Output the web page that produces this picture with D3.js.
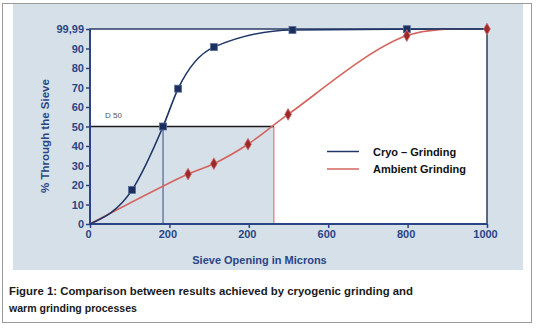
<!DOCTYPE html>
<html><head><meta charset="utf-8">
<script src="https://cdn.jsdelivr.net/npm/d3@7"></script>
<style>body{margin:0;background:#fff}svg{display:block}</style>
</head><body>
<svg id="c" width="540" height="331"></svg>
<script>
// ---- data ----
const cryoMicrons   = [0, 106, 184, 222, 312, 510, 798, 1000];
const cryoPercent   = [0, 17.5, 50, 69.4, 90.7, 99.5, 99.9, 99.99];
const cryoMarker    = [false, true, true, true, true, true, true, false];
const ambMicrons    = [0, 247, 312, 398, 499, 798, 1000];
const ambPercent    = [0, 25.6, 30.9, 40.9, 56.2, 96.6, 99.99];
const ambMarker     = [false, true, true, true, true, true, true];
const d50Level      = 50;
const cryoD50       = 184;
const ambD50        = 463;
const xTickValues   = [0, 200, 400, 600, 800, 1000];
const xTickLabels   = ["0", "200", "200", "600", "800", "1000"];
const yTickValues   = [0, 10, 20, 30, 40, 50, 60, 70, 80, 90, 99.99];
const yTickLabels   = ["0","10","20","30","40","50","60","70","80","90","99,99"];
const seriesNames   = ["Cryo \u2013 Grinding", "Ambient Grinding"];
const captionLines  = ["Figure 1: Comparison between results achieved by cryogenic grinding and", "warm grinding processes"];

// ---- drawing ----
const svg = d3.select("#c");
const panel = "#d6e0e9", navy = "#2a4585", cryoC = "#1e3566", ambC = "#d4645e";
const font = "Arial, 'Liberation Sans', sans-serif";
const x = d3.scaleLinear().domain([0, 1000]).range([90, 487]);
const y = d3.scaleLinear().domain([0, 99.99]).range([224, 29]);

svg.append("rect").attr("x", 2.5).attr("y", 3.5).attr("width", 529).attr("height", 319)
  .attr("fill", "#fff").attr("stroke", "#9a9a9a").attr("stroke-width", 1);
svg.append("rect").attr("x", 13).attr("y", 4).attr("width", 510).attr("height", 266).attr("fill", panel);

svg.append("clipPath").attr("id", "plotclip").append("rect")
  .attr("x", x(0)).attr("y", y(99.99)).attr("width", x(1000) - x(0)).attr("height", y(0) - y(99.99));

// plot area
svg.append("rect").attr("x", x(0)).attr("y", y(99.99)).attr("width", x(1000) - x(0)).attr("height", y(0) - y(99.99)).attr("fill", "#fff");
svg.append("rect").attr("x", x(0)).attr("y", y(d50Level)).attr("width", x(ambD50) - x(0)).attr("height", y(0) - y(d50Level)).attr("fill", panel);

// axes
const yAxis = svg.append("g").attr("transform", `translate(${x(0)},0)`)
  .call(d3.axisLeft(y).tickValues(yTickValues).tickSize(4).tickPadding(2).tickFormat((d, i) => yTickLabels[i]));
const xAxis = svg.append("g").attr("transform", `translate(0,${y(0)})`)
  .call(d3.axisBottom(x).tickValues(xTickValues).tickSize(4).tickPadding(2).tickFormat((d, i) => xTickLabels[i]));
[yAxis, xAxis].forEach(g => {
  g.select(".domain").remove();
  g.selectAll(".tick line").attr("stroke", navy).attr("stroke-width", 1.5);
  g.selectAll(".tick text").attr("fill", navy).attr("font-family", font)
    .attr("font-size", 11).attr("font-weight", "bold");
});
xAxis.selectAll(".tick text").attr("dx", -2);

// reference lines (D50)
svg.append("line").attr("x1", x(cryoD50)).attr("x2", x(cryoD50)).attr("y1", y(d50Level)).attr("y2", y(0))
  .attr("stroke", "#6f82aa").attr("stroke-width", 1.6);
svg.append("line").attr("x1", x(ambD50)).attr("x2", x(ambD50)).attr("y1", y(d50Level)).attr("y2", y(0))
  .attr("stroke", "#dc8a88").attr("stroke-width", 1.4);
svg.append("line").attr("x1", x(0)).attr("x2", x(ambD50)).attr("y1", y(d50Level)).attr("y2", y(d50Level))
  .attr("stroke", "#1a1a1a").attr("stroke-width", 1.5);
svg.append("text").attr("x", x(0) + 15).attr("y", y(d50Level) - 8).text("D 50")
  .attr("font-family", font).attr("font-size", 8).attr("fill", "#555");

// plot box
svg.append("rect").attr("x", x(0)).attr("y", y(99.99)).attr("width", x(1000) - x(0)).attr("height", y(0) - y(99.99))
  .attr("fill", "none").attr("stroke", "#2b3d63").attr("stroke-width", 1.5);
svg.append("line").attr("x1", x(0)).attr("x2", x(0)).attr("y1", y(99.99)).attr("y2", y(0)).attr("stroke", navy).attr("stroke-width", 2);
svg.append("line").attr("x1", x(0)).attr("x2", x(1000)).attr("y1", y(0)).attr("y2", y(0)).attr("stroke", navy).attr("stroke-width", 2);

// series
const cryoLine = d3.line().x(d => x(d[0])).y(d => y(d[1])).curve(d3.curveMonotoneX);
const ambLine = d3.line().x(d => x(d[0])).y(d => y(d[1])).curve(d3.curveCatmullRom.alpha(0.5));
const cryo = cryoMicrons.map((m, i) => [m, cryoPercent[i], cryoMarker[i]]);
const amb = ambMicrons.map((m, i) => [m, ambPercent[i], ambMarker[i]]);
svg.append("path").datum(amb).attr("d", ambLine).attr("clip-path", "url(#plotclip)")
  .attr("fill", "none").attr("stroke", ambC).attr("stroke-width", 1.6);
svg.append("path").datum(cryo).attr("d", cryoLine).attr("fill", "none").attr("stroke", cryoC).attr("stroke-width", 1.6);

svg.append("g").selectAll("rect").data(cryo.filter(d => d[2])).join("rect")
  .attr("x", d => x(d[0]) - 3.5).attr("y", d => y(d[1]) - 3.5).attr("width", 7).attr("height", 7)
  .attr("fill", "#1b2f5e").attr("stroke", "#5a6f9a").attr("stroke-width", 0.8);
const diamond = d3.symbol().type(d3.symbolDiamond).size(40);
svg.append("g").selectAll("path").data(amb.filter(d => d[2])).join("path")
  .attr("transform", d => `translate(${x(d[0])},${y(d[1])})`).attr("d", diamond)
  .attr("fill", "#9c2a2a").attr("stroke", "#d07070").attr("stroke-width", 0.8);

// legend
const leg = svg.append("g");
seriesNames.forEach((name, i) => {
  const ly = 151.5 + i * 17.5;
  leg.append("line").attr("x1", 327).attr("x2", 359).attr("y1", ly).attr("y2", ly)
    .attr("stroke", i === 0 ? cryoC : ambC).attr("stroke-width", 1.5);
  leg.append("text").attr("x", 373).attr("y", ly + 4).text(name)
    .attr("font-family", font).attr("font-size", 11).attr("font-weight", "bold").attr("fill", "#111");
});

// axis titles
svg.append("text").attr("transform", "translate(49,136) rotate(-90)").attr("text-anchor", "middle")
  .text("% Through the Sieve").attr("font-family", font)
  .attr("font-size", 11.5).attr("font-weight", "bold").attr("fill", navy);
svg.append("text").attr("x", 259.5).attr("y", 264).attr("text-anchor", "middle")
  .text("Sieve Opening in Microns").attr("font-family", font)
  .attr("font-size", 11).attr("font-weight", "bold").attr("fill", navy);

// caption
svg.append("text").attr("x", 9).attr("y", 295).text(captionLines[0])
  .attr("font-family", "'Liberation Sans Narrow', 'Arial Narrow', sans-serif").attr("font-size", 11.5)
  .attr("font-weight", "bold").attr("fill", "#1a1a1a").attr("textLength", 404).attr("lengthAdjust", "spacingAndGlyphs");
svg.append("text").attr("x", 9).attr("y", 312).text(captionLines[1])
  .attr("font-family", "'Liberation Sans Narrow', 'Arial Narrow', sans-serif").attr("font-size", 11.5)
  .attr("font-weight", "bold").attr("fill", "#1a1a1a").attr("textLength", 128).attr("lengthAdjust", "spacingAndGlyphs");
</script>
</body></html>
